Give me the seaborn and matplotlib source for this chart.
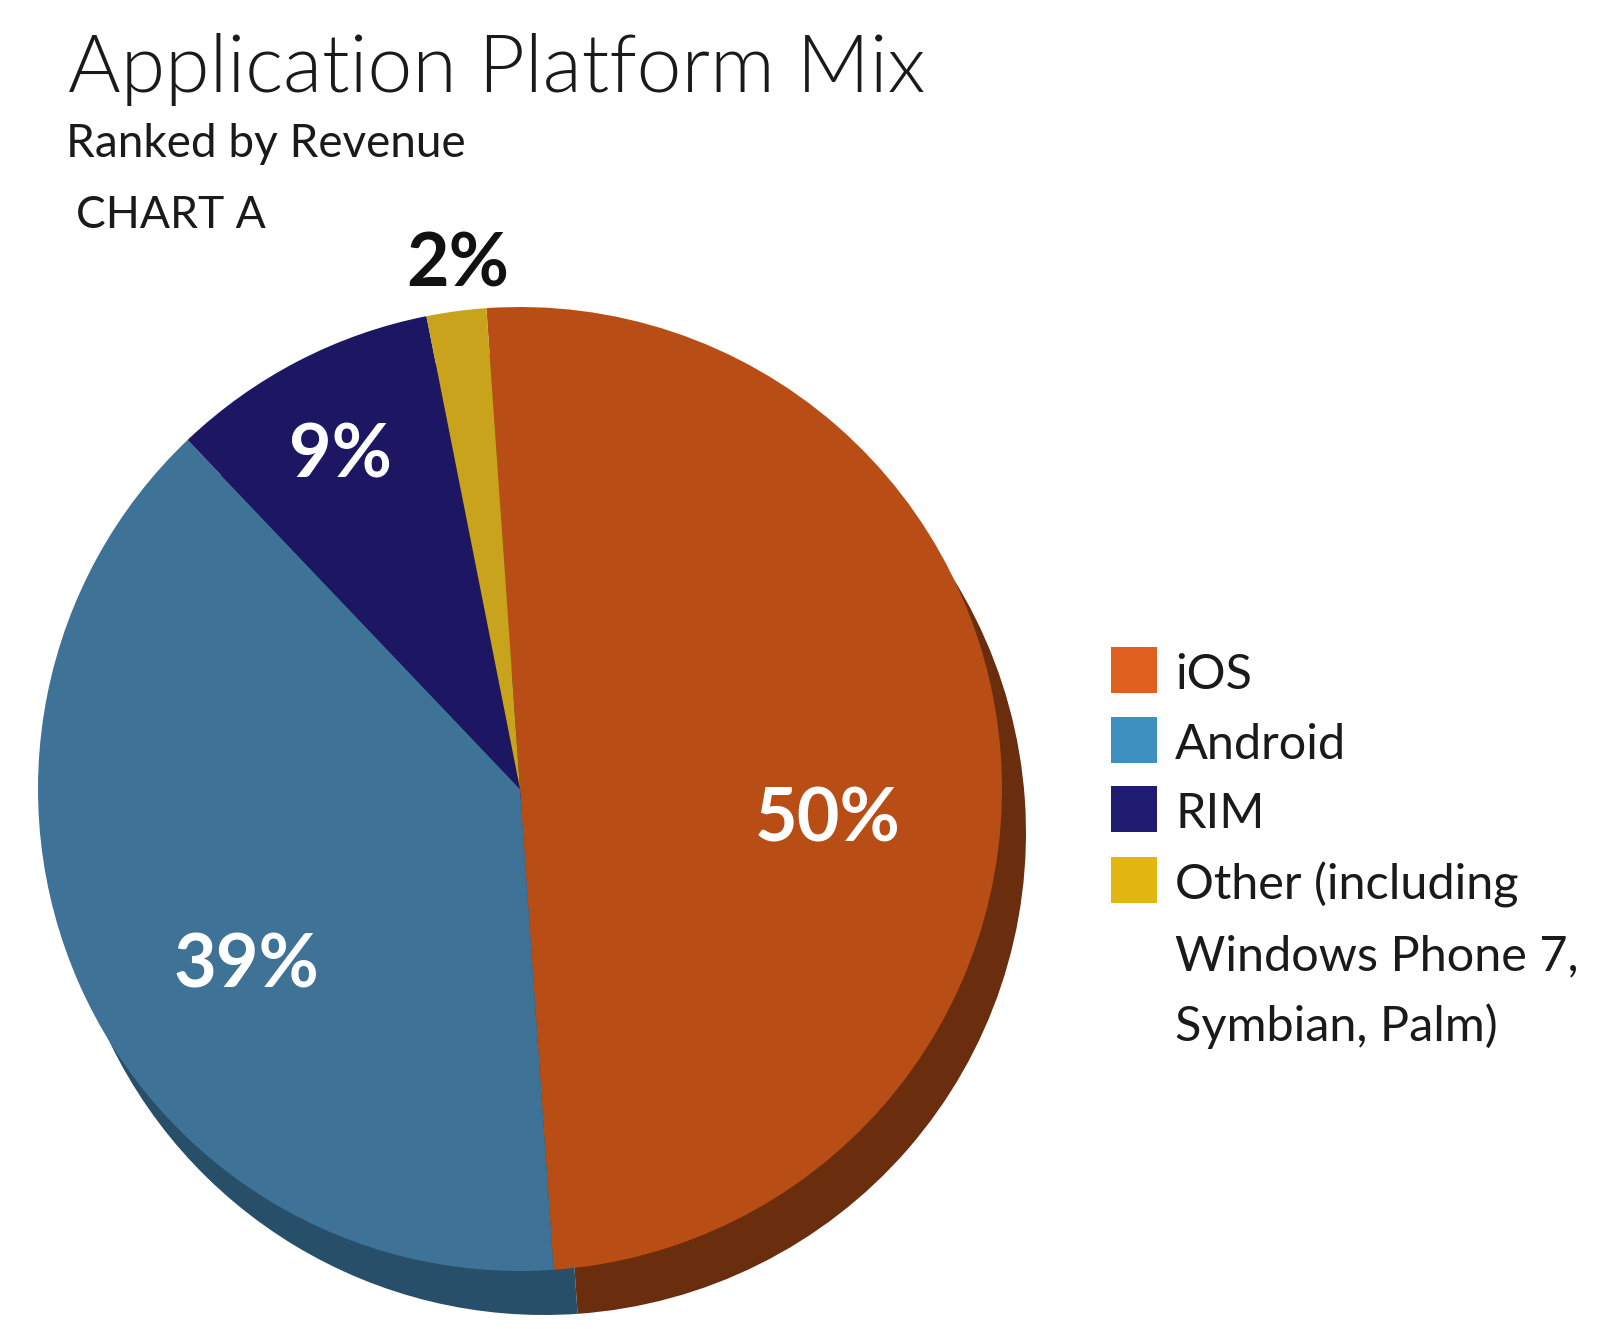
import matplotlib
matplotlib.use("Agg")
import matplotlib.pyplot as plt
import seaborn as sns
from matplotlib.patches import Rectangle

# data
platforms = ["iOS", "Android", "RIM", "Other"]
shares = [50, 39, 9, 2]
legend_labels = ["iOS", "Android", "RIM", "Other (including\nWindows Phone 7,\nSymbian, Palm)"]

pie_colors = ["#B84E16", "#3E7297", "#1D1662", "#C8A31B"]
shadow_colors = ["#6A2E0E", "#284F69", "#120E40", "#7A6410"]
legend_colors = ["#E0601F", "#3E90C0", "#1F1B70", "#E2B510"]

sns.set_theme(style="white")
plt.rcParams["font.family"] = ["Lato", "DejaVu Sans"]

W, H = 1600, 1329
fig = plt.figure(figsize=(W / 100, H / 100), dpi=100)
ax = fig.add_axes([0, 0, 1, 1])

cx, cy, r = 520, H - 789, 482

# 3d-ish rim drawn as a shifted darker copy
ax.pie(shares, colors=shadow_colors, startangle=94, counterclock=False,
       center=(cx + 24, cy - 44), radius=r, frame=True,
       wedgeprops=dict(linewidth=0))
ax.pie(shares, colors=pie_colors, startangle=94, counterclock=False,
       center=(cx, cy), radius=r, frame=True,
       wedgeprops=dict(linewidth=0))
ax.set_xlim(0, W)
ax.set_ylim(0, H)
ax.set_axis_off()

# percentage labels
label_pos = [(828, 820), (246, 966), (340, 456), (458, 265)]
label_cols = ["white", "white", "white", "#111111"]
for s, (px, py), c in zip(shares, label_pos, label_cols):
    ax.text(px, H - py, f"{s}%", color=c, fontsize=53, fontweight="bold",
            ha="center", va="center")

# titles
ax.text(68, H - 92, "Application Platform Mix", fontsize=58, fontweight=300,
        color="#1a1a1a", ha="left", va="baseline")
ax.text(66, H - 157, "Ranked by Revenue", fontsize=33, color="#1a1a1a",
        ha="left", va="baseline")
ax.text(76, H - 228, "CHART A", fontsize=32, color="#1a1a1a",
        ha="left", va="baseline")

# legend
rows = [670, 740, 809, 880]
for lab, col, ry in zip(legend_labels, legend_colors, rows):
    ax.add_patch(Rectangle((1111, H - ry - 23), 46, 46, color=col, lw=0))
    for i, line in enumerate(lab.split("\n")):
        ax.text(1175, H - ry - 19 - 71 * i, line, fontsize=35, color="#1a1a1a",
                ha="left", va="baseline")

fig.savefig("out.png", dpi=100)
